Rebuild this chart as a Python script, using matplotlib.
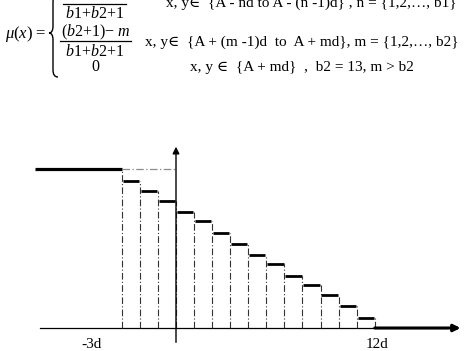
import numpy as np
import matplotlib
matplotlib.use("Agg")
import matplotlib.pyplot as plt
from matplotlib.path import Path
from matplotlib.patches import PathPatch

plt.rcParams["mathtext.fontset"] = "custom"
plt.rcParams["mathtext.rm"] = "Liberation Serif"
plt.rcParams["mathtext.it"] = "Liberation Serif:italic"

# step edges in units of d, y-axis at 0
edges = [-3, -2, -1, 0, 1, 2, 3, 4, 5, 6, 7, 8, 9, 10, 11]
# membership level of each step
levels = [0.925, 0.86, 0.80, 0.73, 0.67, 0.60, 0.53, 0.46, 0.40, 0.33, 0.27, 0.21, 0.14, 0.06]
top_level = 1.0
left_start = -7.8
tick_labels = {-4.65: "-3d", 11.1: "12d"}

W, H = 474, 351
fig = plt.figure(figsize=(W / 100, H / 100), dpi=100)
ax = fig.add_axes([0, 0, 1, 1])
px = 18.07   # pixels per d
py = 159.0   # pixels per unit membership
x0, y0 = 176, 328
ax.set_xlim((0 - x0) / px, (W - x0) / px)
ax.set_ylim((y0 - H) / py, y0 / py)
ax.axis("off")

serif = ["Liberation Serif", "DejaVu Serif"]

# axes with arrows
ax.plot([-7.55, 15.0], [0, 0], color="black", lw=0.9)
ax.annotate("", xy=(15.75, 0), xytext=(11, 0),
            arrowprops=dict(arrowstyle="-|>", color="black", lw=2.2,
                            mutation_scale=10, shrinkA=0, shrinkB=0))
ax.annotate("", xy=(0, 1.14), xytext=(0, -0.09),
            arrowprops=dict(arrowstyle="-|>", color="black", lw=1.0,
                            mutation_scale=10, shrinkA=0, shrinkB=0))

# flat top part on the left
ax.plot([left_start, edges[0]], [top_level, top_level], color="black", lw=2.3,
        solid_capstyle="butt")
ax.plot([edges[0], 0], [top_level, top_level], color="0.55", lw=0.9,
        linestyle=(0, (6, 2, 1, 2)))

# steps
prev = top_level
for i, h in enumerate(levels):
    xl, xr = edges[i], edges[i + 1]
    ax.plot([xl, xl], [0, max(prev, h)], color="0.2", lw=0.8,
            linestyle=(0, (6, 2, 1, 2)))
    ax.plot([xl + 0.05, xr - 0.05], [h, h], color="black", lw=2.0,
            solid_capstyle="butt")
    prev = h
ax.plot([edges[-1], edges[-1]], [0, levels[-1]], color="0.2", lw=0.8,
        linestyle=(0, (6, 2, 1, 2)))

for xv, lab in tick_labels.items():
    ax.text(xv, -0.06, lab, ha="center", va="top", fontsize=11, family=serif)

# equation block, placed in pixel coordinates
def ftext(x, y, s, **kw):
    kw.setdefault("fontsize", 11)
    kw.setdefault("family", serif)
    fig.text(x / W, 1 - y / H, s, va="center", **kw)

def fline(xa, xb, y, lw=0.9):
    fig.add_artist(plt.Line2D([xa / W, xb / W], [1 - y / H, 1 - y / H],
                              color="black", lw=lw))

ftext(5, 34, r"$\mu(x)$ =", ha="left", fontsize=12)
# brace
verts = [(58, -5), (53, -5), (53, 2), (53, 26), (53, 33), (49, 33),
         (53, 33), (53, 40), (53, 70), (53, 77), (58, 77)]
codes = [Path.MOVETO, Path.CURVE3, Path.CURVE3, Path.LINETO, Path.CURVE3, Path.CURVE3,
         Path.CURVE3, Path.CURVE3, Path.LINETO, Path.CURVE3, Path.CURVE3]
bp = Path([(vx / W, 1 - vy / H) for vx, vy in verts], codes)
fig.add_artist(PathPatch(bp, fill=False, lw=1.0, color="black",
                         transform=fig.transFigure))

fline(63, 126, 4)
ftext(95, 14, "$b$1+$b$2+1", ha="center", fontsize=11.5)
ftext(96, 32, "($b$2+1)$-$ $m$", ha="center", fontsize=11.5)
fline(60, 131, 41)
ftext(95, 52, "$b$1+$b$2+1", ha="center", fontsize=11.5)
ftext(95, 67, "0", ha="center", fontsize=11.5)

ftext(311, 3, "x, y\u2208  {A - nd to A - (n -1)d} , n = {1,2,\u2026, b1}", ha="center")
ftext(302, 42, "x, y\u2208  {A + (m -1)d  to  A + md}, m = {1,2,\u2026, b2}", ha="center")
ftext(302, 67, "x, y \u2208  {A + md}  ,  b2 = 13, m > b2", ha="center")

fig.savefig("out.png", dpi=100)
